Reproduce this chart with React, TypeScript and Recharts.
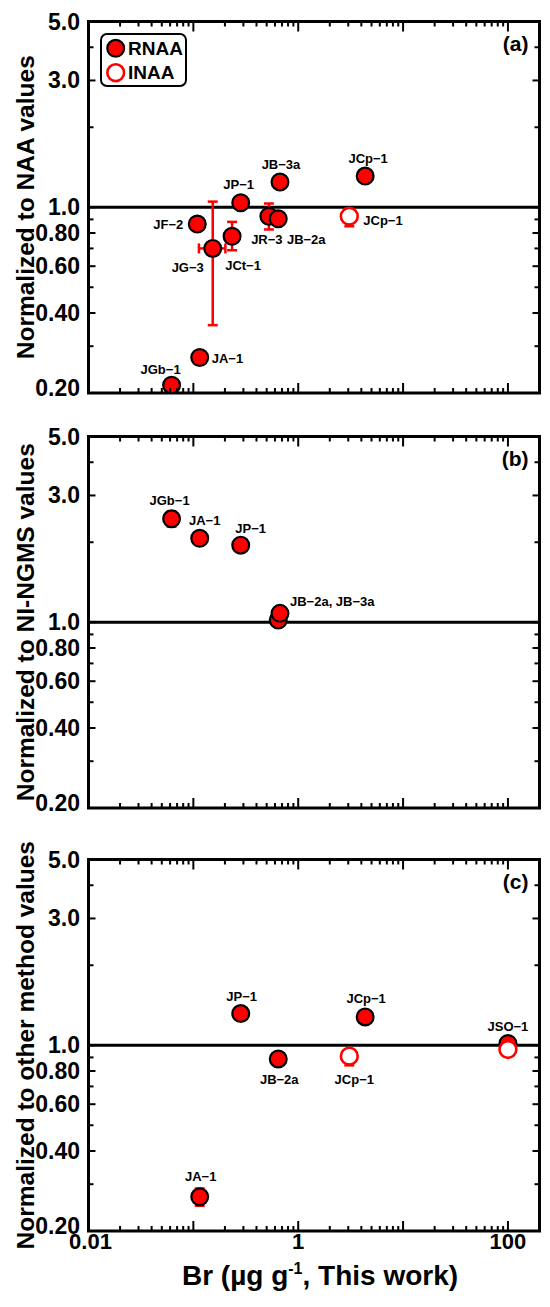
import React from 'react';
import {
  ScatterChart,
  Scatter,
  XAxis,
  YAxis,
  ReferenceLine,
  ReferenceArea,
  ErrorBar,
  Legend,
} from 'recharts';

const FONT = '"Liberation Sans", Arial, Helvetica, sans-serif';
const RED = '#ff0000';

// log axes shared by all three panels
const xDomain = [0.01, 200];
const yDomain = [0.2, 5];
const xDecades = [0.01, 0.1, 1, 10, 100];
const xSubSteps = [2, 3, 4, 5, 6, 7, 8, 9];
const xTickLabels: Record<string, string> = { '0.01': '0.01', '1': '1', '100': '100' };
const yTicks = [0.2, 0.3, 0.4, 0.5, 0.6, 0.7, 0.8, 0.9, 1, 2, 3, 4, 5];
const yTickLabels: Record<string, string> = {
  '0.2': '0.20',
  '0.4': '0.40',
  '0.6': '0.60',
  '0.8': '0.80',
  '1': '1.0',
  '3': '3.0',
  '5': '5.0',
};
const xTicks = xDecades
  .flatMap((d) => [d, ...xSubSteps.map((s) => +(d * s).toPrecision(3))])
  .filter((v) => v <= 200);

interface Point {
  name: string;
  text: string;
  x: number;
  y: number;
  ey?: [number, number];
  ex?: [number, number];
}

// (a) normalized to NAA values
const rnaaA: Point[] = [
  { name: 'JGb-1', text: 'JGb−1', x: 0.062, y: 0.214 },
  { name: 'JA-1', text: 'JA−1', x: 0.115, y: 0.272 },
  { name: 'JF-2', text: 'JF−2', x: 0.109, y: 0.865 },
  { name: 'JG-3', text: 'JG−3', x: 0.153, y: 0.7, ey: [0.34, 0.35], ex: [0.04, 0.049] },
  { name: 'JCt-1', text: 'JCt−1', x: 0.234, y: 0.778, ey: [0.089, 0.103] },
  { name: 'JP-1', text: 'JP−1', x: 0.283, y: 1.04 },
  { name: 'JR-3', text: 'JR−3', x: 0.525, y: 0.925, ey: [0.1, 0.108] },
  { name: 'JB-2a', text: 'JB−2a', x: 0.645, y: 0.905 },
  { name: 'JB-3a', text: 'JB−3a', x: 0.67, y: 1.245 },
  { name: 'JCp-1', text: 'JCp−1', x: 4.35, y: 1.31 },
];
const inaaA: Point[] = [
  { name: 'JCp-1', text: 'JCp−1', x: 3.07, y: 0.925, ey: [0.077, 0.06] },
];

// (b) normalized to NI-NGMS values
const rnaaB: Point[] = [
  { name: 'JGb-1', text: 'JGb−1', x: 0.062, y: 2.45, ey: [0.16, 0.16] },
  { name: 'JA-1', text: 'JA−1', x: 0.115, y: 2.07 },
  { name: 'JP-1', text: 'JP−1', x: 0.283, y: 1.95 },
  { name: 'JB-2a', text: '', x: 0.645, y: 1.02 },
  { name: 'JB-3a', text: 'JB−2a, JB−3a', x: 0.67, y: 1.08 },
];
const inaaB: Point[] = [];

// (c) normalized to other method values
const rnaaC: Point[] = [
  { name: 'JA-1', text: 'JA−1', x: 0.115, y: 0.269, ey: [0.02, 0.02] },
  { name: 'JP-1', text: 'JP−1', x: 0.283, y: 1.316 },
  { name: 'JB-2a', text: 'JB−2a', x: 0.645, y: 0.888 },
  { name: 'JCp-1', text: 'JCp−1', x: 4.35, y: 1.278 },
  { name: 'JSO-1', text: 'JSO−1', x: 100, y: 1.015 },
];
const inaaC: Point[] = [
  { name: 'JCp-1', text: 'JCp−1', x: 3.07, y: 0.91, ey: [0.07, 0.05] },
  { name: 'JSO-1', text: '', x: 100, y: 0.964 },
];

// label placement around each marker: [dx, dy, anchor]
type Place = Record<string, [number, number, 'start' | 'middle' | 'end']>;
const placeRA: Place = {
  'JGb-1': [-11, -16, 'middle'],
  'JA-1': [12, 1, 'start'],
  'JF-2': [-14, 1, 'end'],
  'JG-3': [-25, 19, 'middle'],
  'JCt-1': [11, 29, 'middle'],
  'JP-1': [-2, -18, 'middle'],
  'JR-3': [-2, 23, 'middle'],
  'JB-2a': [28, 21, 'middle'],
  'JB-3a': [1, -17, 'middle'],
  'JCp-1': [3, -18, 'middle'],
};
const placeIA: Place = { 'JCp-1': [14, 4, 'start'] };
const placeRB: Place = {
  'JGb-1': [-2, -18, 'middle'],
  'JA-1': [5, -18, 'middle'],
  'JP-1': [10, -17, 'middle'],
  'JB-3a': [10, -12, 'start'],
};
const placeIB: Place = {};
const placeRC: Place = {
  'JA-1': [1, -20, 'middle'],
  'JP-1': [1, -17, 'middle'],
  'JB-2a': [1, 21, 'middle'],
  'JCp-1': [1, -18, 'middle'],
  'JSO-1': [0, -17, 'middle'],
};
const placeIC: Place = { 'JCp-1': [5, 23, 'middle'] };

const TOP = 21.5;
const PLOT_H = 371.5;
const LEFT = 88.5;
const RIGHT = 539.5;
const R = 8.4;

const textStyle = { fontFamily: FONT, fontWeight: 700, fill: '#000' } as const;

const makeShape = (place: Place, open: boolean) => (props: any) => {
  const { cx, cy } = props;
  const p: Point = props.payload ?? props;
  const pl = place[p.name];
  return (
    <g>
      <circle
        cx={cx}
        cy={cy}
        r={R}
        fill={open ? '#fff' : RED}
        stroke={open ? RED : '#000'}
        strokeWidth={open ? 2.6 : 2.2}
      />
      {pl && p.text && (
        <text
          x={cx + pl[0]}
          y={cy + pl[1]}
          textAnchor={pl[2]}
          dominantBaseline="central"
          fontSize={13}
          {...textStyle}
        >
          {p.text}
        </text>
      )}
    </g>
  );
};

const LegendBox = () => (
  <svg width={88} height={55} style={{ display: 'block' }}>
    <rect x={1} y={1} width={85} height={52} rx={6} fill="#fff" stroke="#000" strokeWidth={2} />
    <circle cx={15.7} cy={15.3} r={R} fill={RED} stroke="#000" strokeWidth={2.2} />
    <text x={28} y={15.3} dominantBaseline="central" fontSize={19} {...textStyle}>
      RNAA
    </text>
    <circle cx={15.7} cy={39.7} r={R} fill="#fff" stroke={RED} strokeWidth={2.6} />
    <text x={28} y={39.7} dominantBaseline="central" fontSize={19} {...textStyle}>
      INAA
    </text>
  </svg>
);

interface PanelProps {
  top: number;
  rnaa: Point[];
  inaa: Point[];
  placeR: Place;
  placeI: Place;
  yLabel: string;
  tag: string;
  bottomAxis?: boolean;
  legend?: boolean;
}

const Panel: React.FC<PanelProps> = ({
  top,
  rnaa,
  inaa,
  placeR,
  placeI,
  yLabel,
  tag,
  bottomAxis,
  legend,
}) => {
  const axisH = bottomAxis ? 76 : 14;
  const height = TOP + PLOT_H + axisH;
  const bottom = TOP + PLOT_H;

  const renderXTick = (props: any) => {
    const { x, payload } = props;
    const v = payload.value;
    const len = xDecades.includes(v) ? 10 : 5;
    const lbl = xTickLabels[String(v)];
    return (
      <g>
        <line x1={x} x2={x} y1={bottom} y2={bottom - len} stroke="#000" strokeWidth={2} />
        <line x1={x} x2={x} y1={TOP} y2={TOP + len} stroke="#000" strokeWidth={2} />
        {bottomAxis && lbl && (
          <text x={x + (v === 0.01 ? 2 : 0)} y={bottom + 18} textAnchor="middle" fontSize={22} {...textStyle}>
            {lbl}
          </text>
        )}
      </g>
    );
  };

  const renderYTick = (props: any) => {
    const { y, payload } = props;
    const lbl = yTickLabels[String(payload.value)];
    const len = lbl ? 7 : 5;
    // the bottom label sits a little above its tick, as in the source figure
    const ty = payload.value === 0.2 ? y - 5 : y;
    return (
      <g>
        <line x1={LEFT} x2={LEFT + len} y1={y} y2={y} stroke="#000" strokeWidth={2} />
        <line x1={RIGHT} x2={RIGHT - len} y1={y} y2={y} stroke="#000" strokeWidth={2} />
        {lbl && (
          <text x={80} y={ty} textAnchor="end" dominantBaseline="central" fontSize={23} {...textStyle}>
            {lbl}
          </text>
        )}
      </g>
    );
  };

  const cy = TOP + PLOT_H / 2;

  return (
    <div style={{ position: 'absolute', left: 0, top: top - TOP }}>
      <ScatterChart
        width={550}
        height={height}
        margin={{ top: TOP, right: 550 - RIGHT, bottom: 0, left: 0 }}
      >
        <XAxis
          type="number"
          dataKey="x"
          scale="log"
          domain={xDomain}
          allowDataOverflow
          ticks={xTicks}
          interval={0}
          axisLine={false}
          tickLine={false}
          tickSize={0}
          height={axisH}
          tick={renderXTick}
          label={
            bottomAxis
              ? {
                  content: () => (
                    <text x={320} y={bottom + 54} textAnchor="middle" fontSize={28} {...textStyle}>
                      Br (µg g
                      <tspan dy={-11} fontSize={16}>
                        -1
                      </tspan>
                      <tspan dy={11}>, This work)</tspan>
                    </text>
                  ),
                }
              : undefined
          }
        />
        <YAxis
          type="number"
          dataKey="y"
          scale="log"
          domain={yDomain}
          allowDataOverflow
          ticks={yTicks}
          interval={0}
          axisLine={false}
          tickLine={false}
          tickSize={0}
          width={LEFT}
          tick={renderYTick}
          label={{
            content: () => (
              <text
                x={25}
                y={cy}
                transform={`rotate(-90 25 ${cy})`}
                textAnchor="middle"
                dominantBaseline="central"
                fontSize={24.5}
                {...textStyle}
              >
                {yLabel}
              </text>
            ),
          }}
        />
        <ReferenceArea
          x1={xDomain[0]}
          x2={xDomain[1]}
          y1={yDomain[0]}
          y2={yDomain[1]}
          fill="none"
          fillOpacity={0}
          stroke="#000"
          strokeWidth={3}
          ifOverflow="visible"
          label={{
            content: () => (
              <text x={RIGHT - 11} y={TOP + 29} textAnchor="end" fontSize={21} {...textStyle}>
                {tag}
              </text>
            ),
          }}
        />
        <ReferenceLine y={1} stroke="#000" strokeWidth={3} ifOverflow="visible" />
        <Scatter data={rnaa} shape={makeShape(placeR, false)} isAnimationActive={false}>
          <ErrorBar dataKey="ey" direction="y" width={5} stroke={RED} strokeWidth={2.5} />
          <ErrorBar dataKey="ex" direction="x" width={5} stroke={RED} strokeWidth={2.5} />
        </Scatter>
        {inaa.length > 0 && (
          <Scatter data={inaa} shape={makeShape(placeI, true)} isAnimationActive={false}>
            <ErrorBar dataKey="ey" direction="y" width={5} stroke={RED} strokeWidth={2.5} />
          </Scatter>
        )}
        {legend && (
          <Legend
            layout="horizontal"
            verticalAlign="middle"
            align="center"
            wrapperStyle={{ left: 100, top: 33 - (top - TOP), width: 88, height: 55 }}
            content={() => <LegendBox />}
          />
        )}
      </ScatterChart>
    </div>
  );
};

export default function App() {
  return (
    <div
      style={{
        position: 'absolute',
        left: 0,
        top: 0,
        width: 550,
        height: 1307,
        background: '#fff',
        fontFamily: FONT,
      }}
    >
      <Panel
        top={21.5}
        rnaa={rnaaA}
        inaa={inaaA}
        placeR={placeRA}
        placeI={placeIA}
        yLabel="Normalized to NAA values"
        tag="(a)"
        legend
      />
      <Panel
        top={436.5}
        rnaa={rnaaB}
        inaa={inaaB}
        placeR={placeRB}
        placeI={placeIB}
        yLabel="Normalized to NI-NGMS values"
        tag="(b)"
      />
      <Panel
        top={859.5}
        rnaa={rnaaC}
        inaa={inaaC}
        placeR={placeRC}
        placeI={placeIC}
        yLabel="Normalized to other method values"
        tag="(c)"
        bottomAxis
      />
    </div>
  );
}
